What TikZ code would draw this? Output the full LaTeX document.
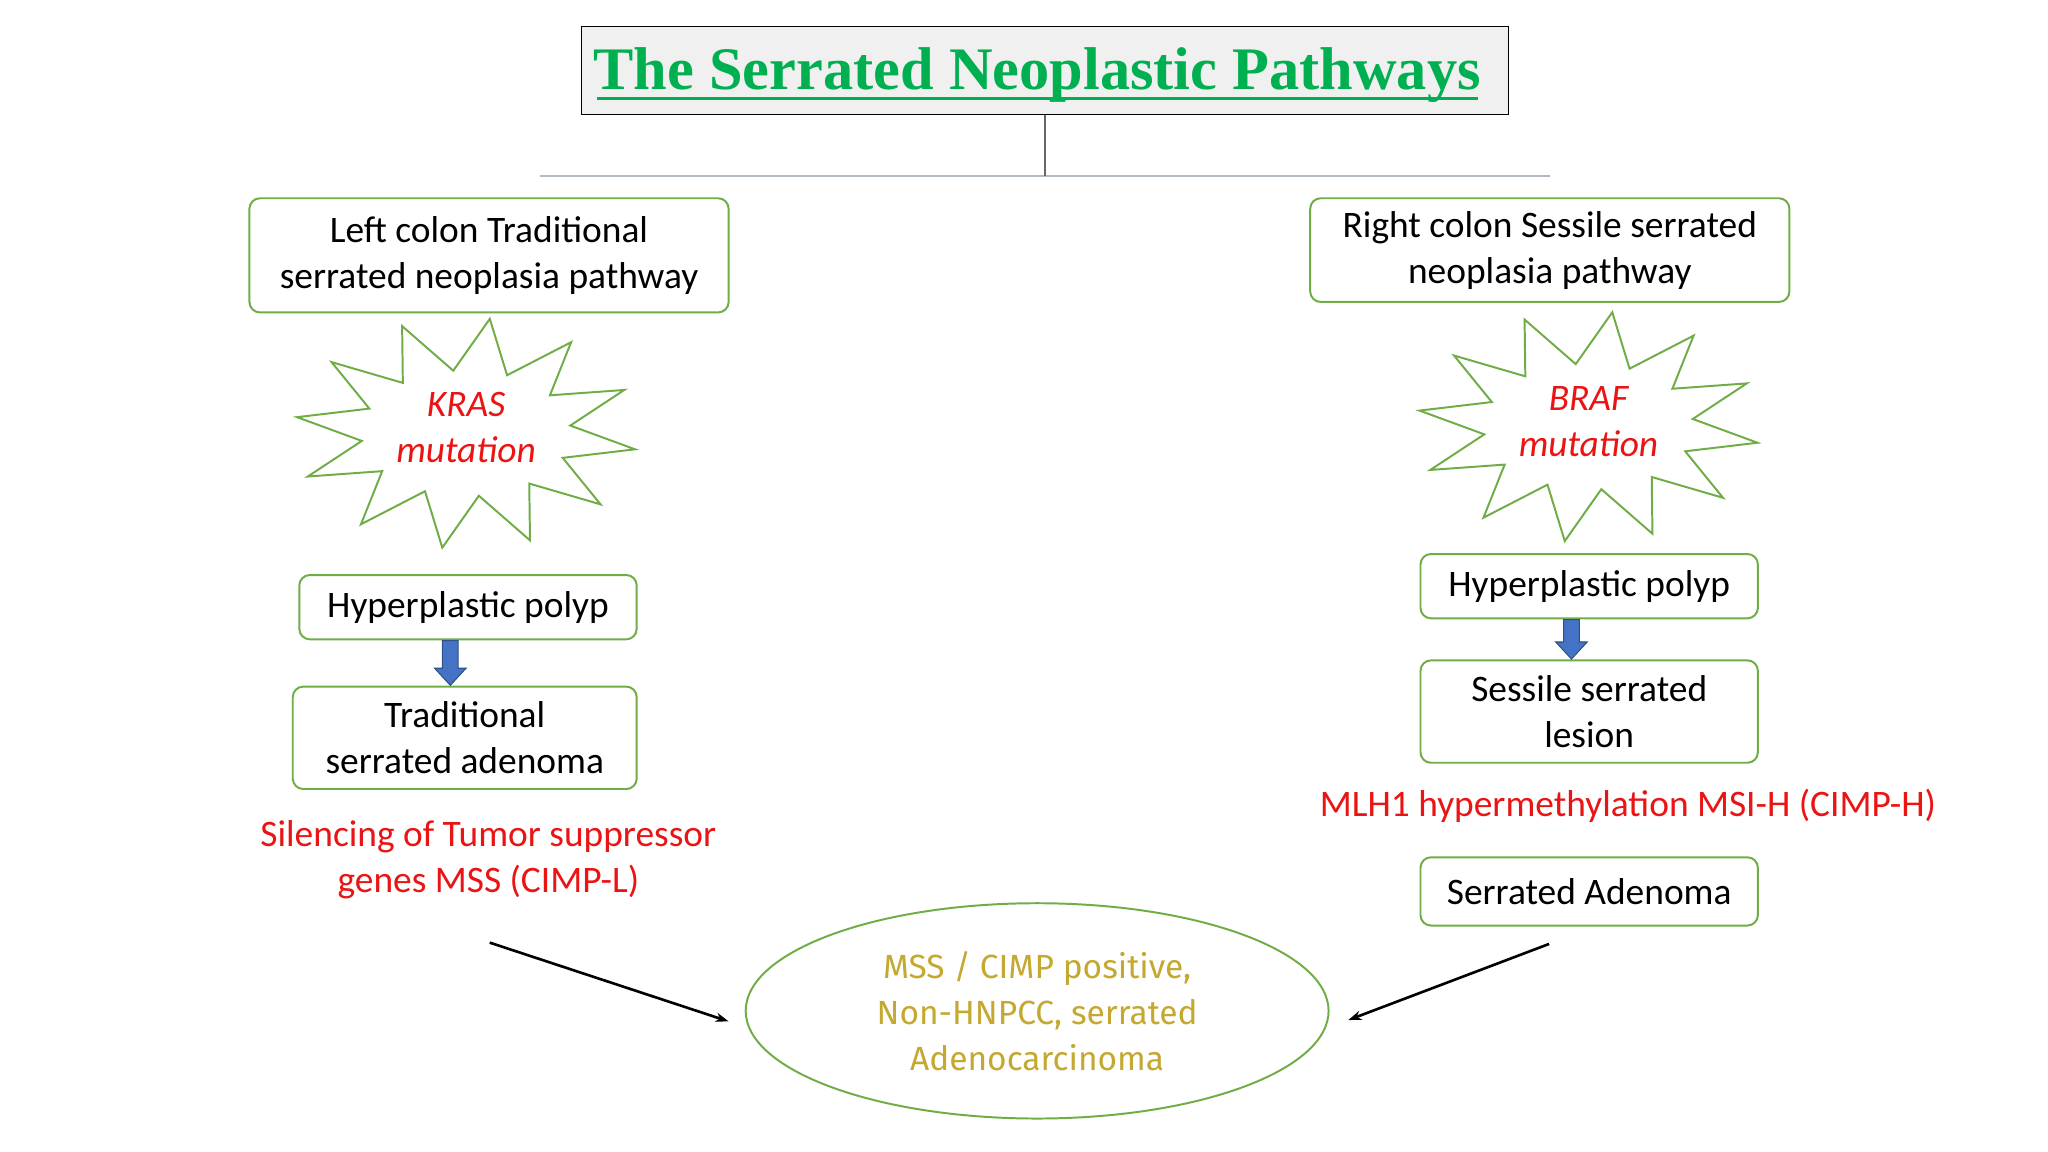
\documentclass[tikz,border=0pt]{standalone}
\usepackage{fontspec}
\setmainfont{Carlito}
\newfontfamily\titlefont{Liberation Serif}
\newfontfamily\ellfont{Fira Sans}
\usetikzlibrary{arrows.meta,shapes.geometric}
\definecolor{gbord}{RGB}{112,173,71}
\definecolor{tgreen}{RGB}{0,176,80}
\definecolor{rred}{RGB}{235,20,20}
\definecolor{gold}{RGB}{196,168,48}
\definecolor{barrow}{RGB}{68,114,196}
\definecolor{lgray}{RGB}{200,210,220}
\begin{document}
\begin{tikzpicture}[x=1pt,y=-1pt,
  box/.style={draw=gbord,line width=1.5pt,rounded corners=8pt,align=center,font=\fontsize{28.5}{35}\selectfont,inner sep=0pt},
  red/.style={text=rred,align=center,font=\fontsize{28.5}{35}\selectfont},
  mut/.style={text=rred,align=center,font=\fontsize{28.5}{35}\selectfont\itshape},
  down/.style={draw=barrow!70!black,fill=barrow,line width=0.8pt},
  conn/.style={-{Stealth[length=10pt,width=7pt]},line width=2pt}]
\useasboundingbox[fill=white] (0,0) rectangle (1560,877.5);
\node[draw=black,fill=gray!12,line width=1pt,minimum width=706pt,minimum height=67pt,inner sep=0pt] (title) at (796,53.5) {};
\node (tt) at (790,57) {\titlefont\bfseries\fontsize{46}{50}\selectfont\color{tgreen}The Serrated Neoplastic Pathways};
\coordinate (u1) at (455,75); \coordinate (u2) at (1126,75);
\draw[tgreen,line width=2.5pt] (u1) -- (u2);
\coordinate (hl) at (411,134); \coordinate (hr) at (1181,134); \coordinate (hm) at (796,134);
\draw[lgray!70!gray,line width=1.2pt] (hl) -- (hr);
\draw[gray!80!black,line width=1pt] (title.south) -- (hm);

\node[box,minimum width=365pt,minimum height=87pt] (lc) at (372.5,194.5) {Left colon Traditional\\serrated neoplasia pathway};
\node[box,minimum width=365pt,minimum height=79pt] (rc) at (1180.5,190.5) {Right colon Sessile serrated\\neoplasia pathway};

\foreach \cx/\cy/\nm in {355/330/ls,1210/325/rs}{
  \draw[gbord,line width=1.5pt]
   plot[samples at={0,15,...,345}] ({\cx+ifthenelse(mod(\x,30)==0,1,0)*(130*cos(\x+8))+ifthenelse(mod(\x,30)==0,0,1)*(80*cos(\x+8))},
        {\cy+ifthenelse(mod(\x,30)==0,1,0)*(88*sin(\x+8))+ifthenelse(mod(\x,30)==0,0,1)*(48*sin(\x+8))}) -- cycle;
}
\node[mut] (kras) at (355,326) {KRAS\\mutation};
\node[mut] (braf) at (1210,321) {BRAF\\mutation};

\node[box,minimum width=257pt,minimum height=49pt] (hl1) at (356.5,462.5) {Hyperplastic polyp};
\node[box,minimum width=262pt,minimum height=78pt] (tsa) at (354,562) {Traditional\\serrated adenoma};
\draw[down] (337,488) -- (349,488) -- (349,509) -- (355,509) -- (343,522) -- (331,509) -- (337,509) -- cycle;
\node[red] (sil) at (372,655) {Silencing of Tumor suppressor\\genes MSS (CIMP-L)};

\node[box,minimum width=257pt,minimum height=49pt] (hr1) at (1210.5,446.5) {Hyperplastic polyp};
\node[box,minimum width=257pt,minimum height=78pt] (ssl) at (1210.5,542) {Sessile serrated\\lesion};
\draw[down] (1191,472) -- (1203,472) -- (1203,489) -- (1209,489) -- (1197,502) -- (1185,489) -- (1191,489) -- cycle;
\node[red] (mlh) at (1240,614) {MLH1 hypermethylation MSI-H (CIMP-H)};
\node[box,minimum width=257pt,minimum height=52pt] (sa) at (1210.5,679) {Serrated Adenoma};

\node[ellipse,draw=gbord,line width=1.5pt,minimum width=444pt,minimum height=164pt,align=center,text=gold,
  font=\ellfont\fontsize{25.5}{35}\selectfont] (ell) at (790,770) {MSS / CIMP positive,\\Non-HNPCC, serrated\\Adenocarcinoma};
\coordinate (s1) at (373,718); \coordinate (e1) at (555,778);
\coordinate (s2) at (1180,719); \coordinate (e2) at (1027,777);
\draw[conn] (s1) -- (e1);
\draw[conn] (s2) -- (e2);
\end{tikzpicture}
\end{document}
